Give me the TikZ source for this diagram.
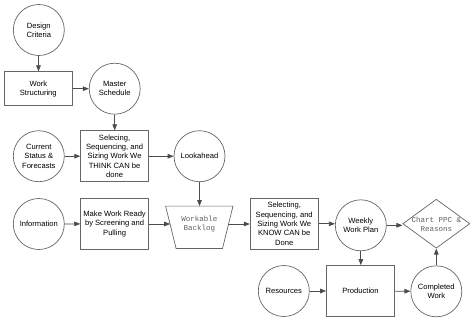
\documentclass[tikz,border=0pt]{standalone}
\usepackage{fontspec}
\setmainfont{Liberation Sans}
\newfontfamily\monofnt{Liberation Mono}
\usetikzlibrary{shapes.geometric,arrows.meta}
\tikzset{
  base/.style={draw=black!60, line width=0.7bp, inner sep=0pt, align=center, text=black,
    font=\fontsize{7.6bp}{9.3bp}\selectfont},
  circ/.style={base, circle, minimum size=51bp},
  boxn/.style={base, rectangle, minimum width=68bp, minimum height=51bp},
  arr/.style={draw=black!70, line width=0.7bp, -{Triangle[length=6bp,width=4.6bp]}},
  mono/.style={text=black!62, font=\monofnt\fontsize{7.5bp}{9bp}\selectfont}
}
\begin{document}
\begin{tikzpicture}[x=1bp,y=-1bp]
\useasboundingbox (0,0) rectangle (474,323);
% nodes
\node[circ] (dc) at (38.8,30) {Design\\Criteria};
\node[boxn, minimum height=34bp] (ws) at (38.3,88.7) {Work\\Structuring};
\node[circ] (ms) at (114.7,88.7) {Master\\Schedule};
\node[circ] (cs) at (38.8,156.2) {Current\\Status \&\\Forecasts};
\node[boxn] (s1) at (114.6,156.2) {Selecing,\\Sequencing, and\\Sizing Work We\\THINK CAN be\\done};
\node[circ] (la) at (199.5,156.2) {Lookahead};
\node[circ] (inf) at (38.8,224) {Information};
\node[boxn] (mwr) at (114.6,223.8) {Make Work Ready\\by Screening and\\Pulling};
\node[inner sep=0pt, minimum width=67bp, minimum height=42bp] (wb) at (199.3,227.3) {};
\draw[draw=black!60, line width=0.7bp] (wb.north west) -- (wb.north east)
  -- ([xshift=-10.5bp]wb.south east) -- ([xshift=10.5bp]wb.south west) -- cycle;
\node[mono, align=center] (wbt) at (199.3,224.5) {Workable\\Backlog};
\coordinate (wbL) at (170.2,224);
\coordinate (wbR) at (228.4,224);
\node[boxn] (s2) at (284.2,223.8) {Selecting,\\Sequencing, and\\Sizing Work We\\KNOW CAN be\\Done};
\node[circ] (wwp) at (360.8,225.3) {Weekly\\Work Plan};
\node[base, diamond, aspect=1.37, minimum width=67bp, minimum height=49bp] (ch) at (436.3,223.7) {};
\node[mono, align=center] (cht) at (436.3,224.5) {Chart PPC \&\\Reasons};
\node[circ] (res) at (283.8,291) {Resources};
\node[boxn] (pr) at (360.5,291) {Production};
\node[circ] (cw) at (436.3,291.3) {Completed\\Work};
% connectors
\draw[arr] (dc) -- (ws);
\draw[arr] (ws) -- (ms);
\draw[arr] (ms.south) -- (ms.south |- s1.north);
\draw[arr] (cs) -- (s1);
\draw[arr] (s1) -- (la);
\draw[arr] (la.south) -- (la.south |- wb.north);
\draw[arr] (inf) -- (mwr);
\draw[arr] (mwr.east |- wbL) -- (wbL);
\draw[arr] (wbR) -- (wbR -| s2.west);
\draw[arr] (s2.east) -- (s2.east -| wwp.west);
\draw[arr] (wwp.east) -- (wwp.east -| ch.west);
\draw[arr] (wwp.south) -- (wwp.south |- pr.north);
\draw[arr] (res) -- (pr);
\draw[arr] (pr) -- (cw);
\draw[arr] (cw) -- (ch);
\end{tikzpicture}
\end{document}
